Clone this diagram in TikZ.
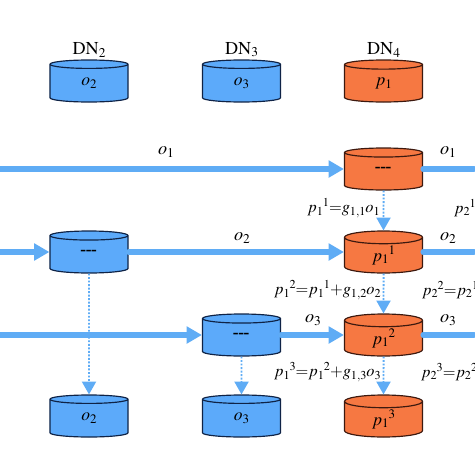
\documentclass[tikz,border=0pt]{standalone}
\usepackage{mathptmx}
\usepackage{tikz}
\usetikzlibrary{positioning, arrows.meta, shapes.geometric}

\definecolor{diskblue}{RGB}{92,170,250}
\definecolor{diskorange}{RGB}{246,120,66}
\definecolor{flowblue}{RGB}{95,172,245}
\definecolor{rimblue}{RGB}{15,35,70}
\definecolor{rimorange}{RGB}{60,25,15}

\newcommand{\eqs}{{=}}
\newcommand{\pls}{{+}}
\newcommand{\nada}{\scalebox{1}[1.9]{\textbf{\fontsize{15.5}{16}\selectfont -{}-{}-}}}

\begin{document}
\begin{tikzpicture}[
      disk/.style={cylinder, anchor=shape center, shape border rotate=90, aspect=0.55, line width=1pt,
        minimum width=2.34cm, minimum height=1.26cm, inner sep=0pt, font=\fontsize{15}{16}\selectfont},
      disk_o/.style={disk, draw=rimblue, cylinder uses custom fill, cylinder body fill=diskblue, cylinder end fill=diskblue},
      disk_p/.style={disk, draw=rimorange, cylinder uses custom fill, cylinder body fill=diskorange, cylinder end fill=diskorange},
      node_txt/.style={inner sep=0pt, font=\fontsize{15.5}{17}\selectfont},
      node_calc/.style={inner sep=0pt, font=\fontsize{14}{17}\selectfont},
      edge_flow/.style={line width=4.6pt, draw=flowblue, line cap=round, -{Triangle[length=13pt, width=14pt]}},
      edge_out/.style={line width=4.6pt, draw=flowblue, line cap=round},
      edge_calc/.style={line width=1.7pt, draw=flowblue, dash pattern=on 1.6pt off 1.4pt, -{Triangle[length=11pt, width=12pt]}},
      x=0.03cm, y=-0.03cm
    ]
      \scriptspace=0pt
      \useasboundingbox (0,0) rectangle (474,474);

      % top row
      \node[disk_o] (t2) at (89,81) {$o_2$};
      \node[disk_o] (t3) at (241.5,81) {$o_3$};
      \node[disk_p] (t4) at (383.5,81) {$p_1$};
      \node[node_txt, above=0.06cm of t2.north] (n2) {$\mathrm{DN}_2$};
      \node[node_txt, above=0.06cm of t3.north] (n3) {$\mathrm{DN}_3$};
      \node[node_txt, above=0.06cm of t4.north] (n4) {$\mathrm{DN}_4$};

      % fourth column
      \node[disk_p] (a4) at (383.5,169) {\nada};
      \node[disk_p] (b4) at (383.5,252) {$p_1{}^1$};
      \node[disk_p] (c4) at (383.5,335) {$p_1{}^2$};
      \node[disk_p] (d4) at (383.5,416) {$p_1{}^3$};

      % blue disks
      \node[disk_o] (b2) at (89,252) {\nada};
      \node[disk_o] (c3) at (241.5,335) {\nada};
      \node[disk_o] (d2) at (89,416) {$o_2$};
      \node[disk_o] (d3) at (241.5,416) {$o_3$};

      % ends at the picture edge
      \coordinate (la) at (0,169);
      \coordinate (lb) at (0,252);
      \coordinate (lc) at (0,335);
      \coordinate (ra) at (474,169);
      \coordinate (rb) at (474,252);
      \coordinate (rc) at (474,335);

      \draw[edge_flow] (la) to (a4.shape center -| a4.west);
      \draw[edge_flow] (lb) to (b2.shape center -| b2.west);
      \draw[edge_flow] (b2.shape center -| b2.east) to (b4.shape center -| b4.west);
      \draw[edge_flow] (lc) to (c3.shape center -| c3.west);
      \draw[edge_flow] (c3.shape center -| c3.east) to (c4.shape center -| c4.west);
      \draw[edge_out] (a4.shape center -| a4.east) to (ra);
      \draw[edge_out] (b4.shape center -| b4.east) to (rb);
      \draw[edge_out] (c4.shape center -| c4.east) to (rc);

      \draw[edge_calc] (a4.south) to (b4.north);
      \draw[edge_calc] (b4.south) to (c4.north);
      \draw[edge_calc] (c4.south) to (d4.north);
      \draw[edge_calc] (b2.south) to (d2.north);
      \draw[edge_calc] (c3.south) to (d3.north);

      % labels
      \node[node_txt] (l1) at (166,152) {$o_1$};
      \node[node_txt] (l2) at (242,238) {$o_2$};
      \node[node_txt] (l3) at (313,320) {$o_3$};
      \node[node_txt] (l4) at (448,152) {$o_1$};
      \node[node_txt] (l5) at (448,238) {$o_2$};
      \node[node_txt] (l6) at (448,320) {$o_3$};

      \node[node_calc, anchor=east] (f1) at (380,208) {$p_1{}^1\eqs g_{1,1}o_1$};
      \node[node_calc, anchor=east] (f2) at (381,290) {$p_1{}^2\eqs p_1{}^1\pls g_{1,2}o_2$};
      \node[node_calc, anchor=east] (f3) at (381,372) {$p_1{}^3\eqs p_1{}^2\pls g_{1,3}o_3$};
      \node[node_calc, anchor=west] (f4) at (454,208) {$p_2{}^1$};
      \node[node_calc, anchor=west] (f5) at (422,290) {$p_2{}^2\eqs p_2{}^1$};
      \node[node_calc, anchor=west] (f6) at (421,372) {$p_2{}^3\eqs p_2{}^2$};
    \end{tikzpicture}
\end{document}
